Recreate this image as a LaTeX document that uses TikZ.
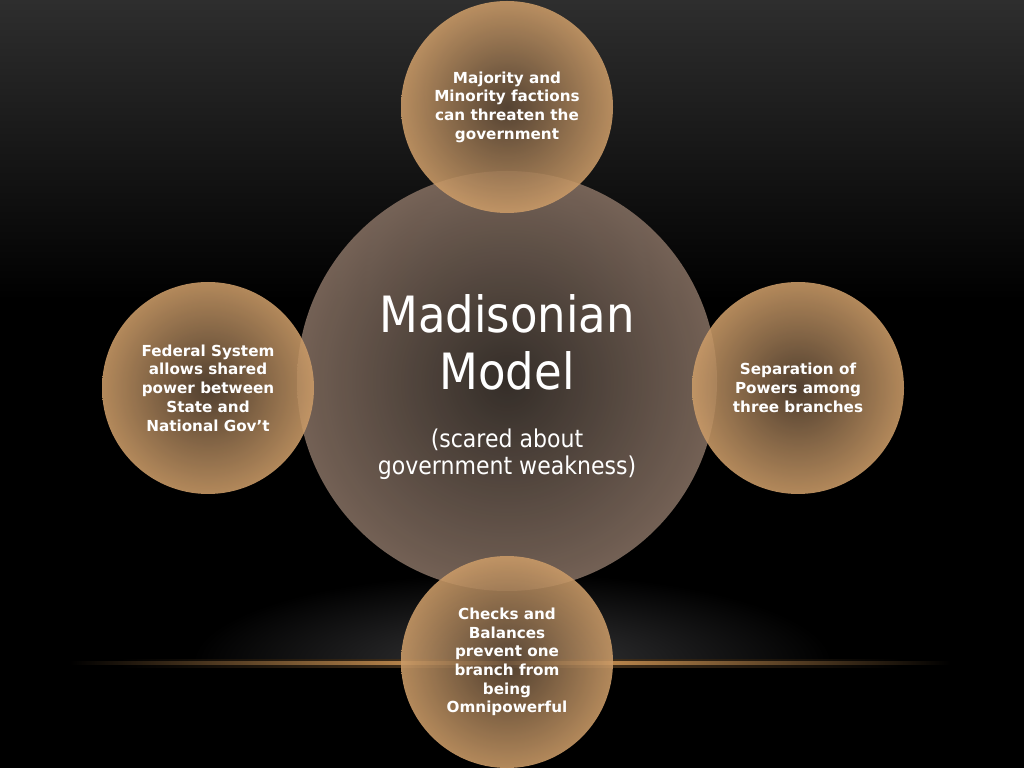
\documentclass[tikz,border=0pt]{standalone}
\usepackage{fontspec}
\setmainfont{DejaVu Sans}
\newfontfamily\titlefont[FakeStretch=0.9]{DejaVu Sans}
\usetikzlibrary{positioning}
\definecolor{bubbleedge}{RGB}{204,156,104}
\definecolor{bubblecore}{RGB}{92,72,54}
\definecolor{hubedge}{RGB}{136,114,100}
\definecolor{hubcore}{RGB}{62,54,48}
\definecolor{topglow}{RGB}{46,46,46}
\definecolor{floorglow}{RGB}{56,56,58}
\definecolor{horizon}{RGB}{238,172,98}

\tikzset{
  bubble/.style={circle, minimum size=212pt, inner sep=0pt,
    inner color=bubblecore, outer color=bubbleedge,
    fill opacity=0.88, text opacity=1, text=white, align=center,
    font=\bfseries\fontsize{15.2}{18.7}\selectfont},
  hub/.style={circle, minimum size=420pt, inner sep=0pt,
    inner color=hubcore, outer color=hubedge, fill opacity=0.85},
  caption/.style={text=white, align=center, inner sep=0pt}
}

\begin{document}
\begin{tikzpicture}[x=1pt,y=1pt]
    \useasboundingbox (0,0) rectangle (1024,768);
    \clip (0,0) rectangle (1024,768);

    % background
    \fill[black] (0,0) rectangle (1024,768);
    \shade[top color=topglow, bottom color=black] (0,468) rectangle (1024,768);
    \begin{scope}
        \clip (0,105) rectangle (1024,230);
        \shade[inner color=floorglow, outer color=black] (512,105) ellipse [x radius=320, y radius=90];
    \end{scope}
    \shade[left color=black, right color=black, middle color=horizon!35!black] (120,101) rectangle (900,109);
    \shade[left color=black, right color=black, middle color=horizon] (70,103.5) rectangle (950,106.5);

    % circles
    \node (hub) [hub] at (507,387) {};
    \node (factions) [bubble] at (507,661) {Majority and\\Minority factions\\can threaten the\\government};
    \node (federal) [bubble] at (208,380) {Federal System\\allows shared\\power between\\State and\\National Gov’t};
    \node (separation) [bubble] at (798,380) {Separation of\\Powers among\\three branches};
    \node (checks) [bubble] at (507,106) {Checks and\\Balances\\prevent one\\branch from\\being\\Omnipowerful};

    % hub texts
    \node (title) [caption, font=\titlefont\fontsize{50}{57}\selectfont] at ([yshift=39pt]hub.center) {Madisonian\\Model};
    \node (subtitle) [caption, font=\titlefont\fontsize{24.5}{27.5}\selectfont] at ([yshift=-73pt]hub.center) {(scared about\\government weakness)};
\end{tikzpicture}
\end{document}
